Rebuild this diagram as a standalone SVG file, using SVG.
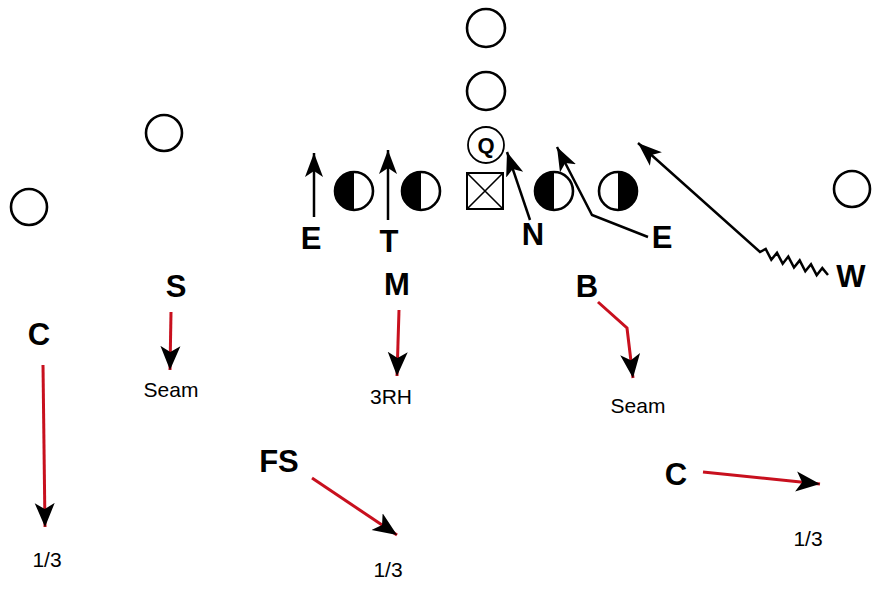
<svg xmlns="http://www.w3.org/2000/svg" width="880" height="590" viewBox="0 0 880 590">
<style>
.pl{fill:#fff;stroke:#000;stroke-width:2.6}
.half{fill:#000}
.lb{font-family:"Liberation Sans",Arial,sans-serif;font-weight:bold;font-size:31px;text-anchor:middle;fill:#000}
.sm{font-family:"Liberation Sans",Arial,sans-serif;font-size:21px;text-anchor:middle;fill:#000}
.bk{fill:none;stroke:#000;stroke-width:2.5;marker-end:url(#ah)}
.rd{fill:none;stroke:#c8101e;stroke-width:3;marker-end:url(#ahr)}
</style>
<defs>
<marker id="ah" markerUnits="userSpaceOnUse" markerWidth="26" markerHeight="22" viewBox="0 0 26 22" refX="24" refY="11" orient="auto">
<path d="M0,2 L24,11 L0,20 L6,11 Z" fill="#000"/>
</marker>
<marker id="ahr" markerUnits="userSpaceOnUse" markerWidth="26" markerHeight="22" viewBox="0 0 26 22" refX="24" refY="11" orient="auto">
<path d="M0,1 L24,11 L0,21 L6,11 Z" fill="#000"/>
</marker>
</defs>
<rect width="880" height="590" fill="#fff"/>

<g id="o-top1"><circle class="pl" cx="486" cy="28" r="19"/></g>
<g id="o-top2"><circle class="pl" cx="486" cy="91" r="19"/></g>
<g id="qb"><circle cx="486" cy="145" r="18" fill="#fff" stroke="#000" stroke-width="1.8"/><text x="486" y="153" font-family="Liberation Sans,Arial,sans-serif" font-weight="bold" font-size="22" text-anchor="middle">Q</text></g>
<g id="center"><rect x="467" y="173" width="36" height="36" fill="#fff" stroke="#000" stroke-width="2"/><path d="M467,173 L503,209 M503,173 L467,209" stroke="#000" stroke-width="1.6"/></g>
<g id="ol1"><circle class="pl" cx="354" cy="191" r="19"/><path class="half" d="M354,172 A19,19 0 0 0 354,210 Z"/></g>
<g id="ol2"><circle class="pl" cx="421" cy="191" r="19"/><path class="half" d="M421,172 A19,19 0 0 0 421,210 Z"/></g>
<g id="ol3"><circle class="pl" cx="554" cy="191" r="19"/><path class="half" d="M554,172 A19,19 0 0 0 554,210 Z"/></g>
<g id="ol4"><circle class="pl" cx="618" cy="191" r="19"/><path class="half" d="M618,172 A19,19 0 0 1 618,210 Z"/></g>
<g id="wr-left2"><circle class="pl" cx="164" cy="133" r="18"/></g>
<g id="wr-left1"><circle class="pl" cx="29" cy="207" r="18"/></g>
<g id="wr-right"><circle class="pl" cx="852" cy="189" r="18"/></g>

<g id="d-E1"><text class="lb" x="311" y="249">E</text></g>
<g id="d-T"><text class="lb" x="389" y="252">T</text></g>
<g id="d-N"><text class="lb" x="533" y="245">N</text></g>
<g id="d-E2"><text class="lb" x="662" y="248">E</text></g>
<g id="d-W"><text class="lb" x="851" y="287">W</text></g>
<g id="d-M"><text class="lb" x="397" y="295">M</text><text class="sm" x="391" y="404">3RH</text></g>
<g id="d-S"><text class="lb" x="176" y="297">S</text><text class="sm" x="171" y="397">Seam</text></g>
<g id="d-B"><text class="lb" x="587" y="297">B</text><text class="sm" x="638" y="413">Seam</text></g>
<g id="d-C1"><text class="lb" x="39" y="345">C</text><text class="sm" x="47" y="567">1/3</text></g>
<g id="d-FS"><text class="lb" x="279" y="472">FS</text><text class="sm" x="388" y="577">1/3</text></g>
<g id="d-C2"><text class="lb" x="676" y="485">C</text><text class="sm" x="808" y="546">1/3</text></g>

<g id="connectors">
<path class="bk" d="M314,217 L314,153"/>
<path class="bk" d="M388,220 L388,150"/>
<path class="bk" d="M530,220 L507,152"/>
<path class="bk" d="M648,237 L592,215 L557,147"/>
<path class="bk" d="M828,275 L822.3,268.1 L816.7,275.2 L811,264.3 L805.3,271.3 L799.7,260.4 L794,267.5 L788.3,256.6 L782.7,263.7 L777,252.8 L771.3,259.8 L765.7,248.9 L760,252 L638,143"/>
<path class="rd" d="M171,312 L170,370"/>
<path class="rd" d="M399,310 L397,376"/>
<path class="rd" d="M43,365 L45,527"/>
<path class="rd" d="M598,302 L627,328 L633,378"/>
<path class="rd" d="M312,478 L397,535"/>
<path class="rd" d="M703,472 L820,484"/>
</g>
</svg>
